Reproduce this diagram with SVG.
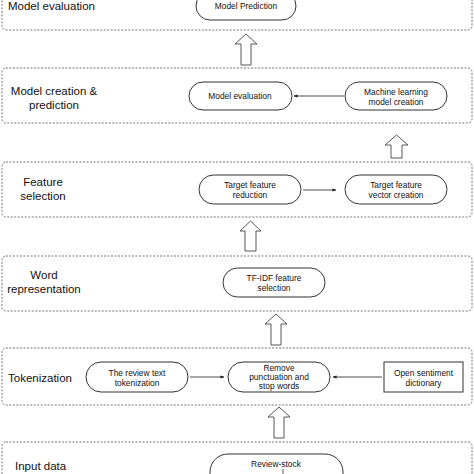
<svg xmlns="http://www.w3.org/2000/svg" width="474" height="474" viewBox="0 0 474 474">
<defs>
<marker id="ah" viewBox="0 0 10 10" refX="9" refY="5" markerWidth="5" markerHeight="5" orient="auto"><path d="M0,1 L10,5 L0,9 z" fill="#222"/></marker>
<style>
.band{fill:#fff;stroke:#777;stroke-width:1;stroke-dasharray:2,1.5}
.pill{fill:#fff;stroke:#333;stroke-width:1}
.lab{font-family:"Liberation Sans",Arial,sans-serif;font-size:11.5px;fill:#111}
.nt{font-family:"Liberation Sans",Arial,sans-serif;font-size:8.4px;fill:#111;text-anchor:middle}
.con{stroke:#222;stroke-width:0.8;fill:none;marker-end:url(#ah)}
.big{fill:#fff;stroke:#444;stroke-width:0.9}
</style>
</defs>
<rect width="474" height="474" fill="#fff"/>
<g id="band-model-evaluation">
<rect class="band" x="2" y="-20" width="470" height="50" rx="4"/>
<text class="lab" x="8" y="9.5">Model evaluation</text>
</g>
<g id="band-model-creation">
<rect class="band" x="2" y="68" width="470" height="55" rx="4"/>
<text class="lab" x="54" y="95" text-anchor="middle">Model creation &amp;</text>
<text class="lab" x="54" y="108.5" text-anchor="middle">prediction</text>
</g>
<g id="band-feature-selection">
<rect class="band" x="2" y="162" width="470" height="55" rx="4"/>
<text class="lab" x="43" y="186" text-anchor="middle">Feature</text>
<text class="lab" x="43" y="199.5" text-anchor="middle">selection</text>
</g>
<g id="band-word-representation">
<rect class="band" x="2" y="256" width="470" height="55" rx="4"/>
<text class="lab" x="44" y="279" text-anchor="middle">Word</text>
<text class="lab" x="44" y="292.5" text-anchor="middle">representation</text>
</g>
<g id="band-tokenization">
<rect class="band" x="2" y="348" width="470" height="57" rx="4"/>
<text class="lab" x="8" y="382">Tokenization</text>
</g>
<g id="band-input-data">
<rect class="band" x="2" y="442" width="470" height="60" rx="4"/>
<text class="lab" x="15" y="470">Input data</text>
</g>

<g id="node-model-prediction">
<rect class="pill" x="196" y="-8" width="100" height="28" rx="14"/>
<text class="nt" x="246" y="9">Model Prediction</text>
</g>
<g id="node-model-evaluation">
<rect class="pill" x="189" y="82" width="103" height="28" rx="14"/>
<text class="nt" x="240" y="99">Model evaluation</text>
</g>
<g id="node-ml-model-creation">
<rect class="pill" x="345" y="82" width="102" height="28" rx="14"/>
<text class="nt" x="396" y="95">Machine learning</text>
<text class="nt" x="396" y="105">model creation</text>
</g>
<g id="node-target-feature-reduction">
<rect class="pill" x="199" y="175" width="102" height="29" rx="14.5"/>
<text class="nt" x="250" y="188">Target feature</text>
<text class="nt" x="250" y="198">reduction</text>
</g>
<g id="node-target-feature-vector">
<rect class="pill" x="345" y="175" width="102" height="29" rx="14.5"/>
<text class="nt" x="396" y="188">Target feature</text>
<text class="nt" x="396" y="198">vector creation</text>
</g>
<g id="node-tfidf">
<rect class="pill" x="223" y="268" width="102" height="29" rx="14.5"/>
<text class="nt" x="274" y="281">TF-IDF feature</text>
<text class="nt" x="274" y="291">selection</text>
</g>
<g id="node-review-tokenization">
<rect class="pill" x="86" y="362" width="102" height="30" rx="15"/>
<text class="nt" x="137" y="376">The review text</text>
<text class="nt" x="137" y="386">tokenization</text>
</g>
<g id="node-remove-punctuation">
<rect class="pill" x="228" y="362" width="102" height="30" rx="15"/>
<text class="nt" x="279" y="371">Remove</text>
<text class="nt" x="279" y="380">punctuation and</text>
<text class="nt" x="279" y="389">stop words</text>
</g>
<g id="node-open-sentiment">
<rect class="pill" x="384" y="362" width="79" height="30"/>
<text class="nt" x="423.5" y="376">Open sentiment</text>
<text class="nt" x="423.5" y="386">dictionary</text>
</g>
<g id="node-review-stock">
<rect class="pill" x="210" y="454" width="133" height="40" rx="18"/>
<text class="nt" x="276" y="467">Review-stock</text>
</g>

<g id="connectors">
<line class="con" x1="344" y1="96" x2="294" y2="96"/>
<line class="con" x1="303" y1="190" x2="336" y2="190"/>
<line class="con" x1="190" y1="377" x2="224" y2="377"/>
<line class="con" x1="382" y1="377" x2="333" y2="377"/>
<line x1="283" y1="469" x2="283" y2="474" stroke="#333" stroke-width="0.8"/>
<path class="big" d="M241,65 L241,44 L235,44 L246,34 L257,44 L251,44 L251,65 Z"/>
<path class="big" d="M391,158 L391,145 L385,145 L396.5,135 L408,145 L402,145 L402,158 Z"/>
<path class="big" d="M245,251 L245,231 L240,231 L250.5,221 L261,231 L256,231 L256,251 Z"/>
<path class="big" d="M271,345 L271,324 L265,324 L276,314 L287,324 L281,324 L281,345 Z"/>
<path class="big" d="M274,438 L274,417 L268,417 L279,407 L290,417 L284,417 L284,438 Z"/>
</g>
</svg>
